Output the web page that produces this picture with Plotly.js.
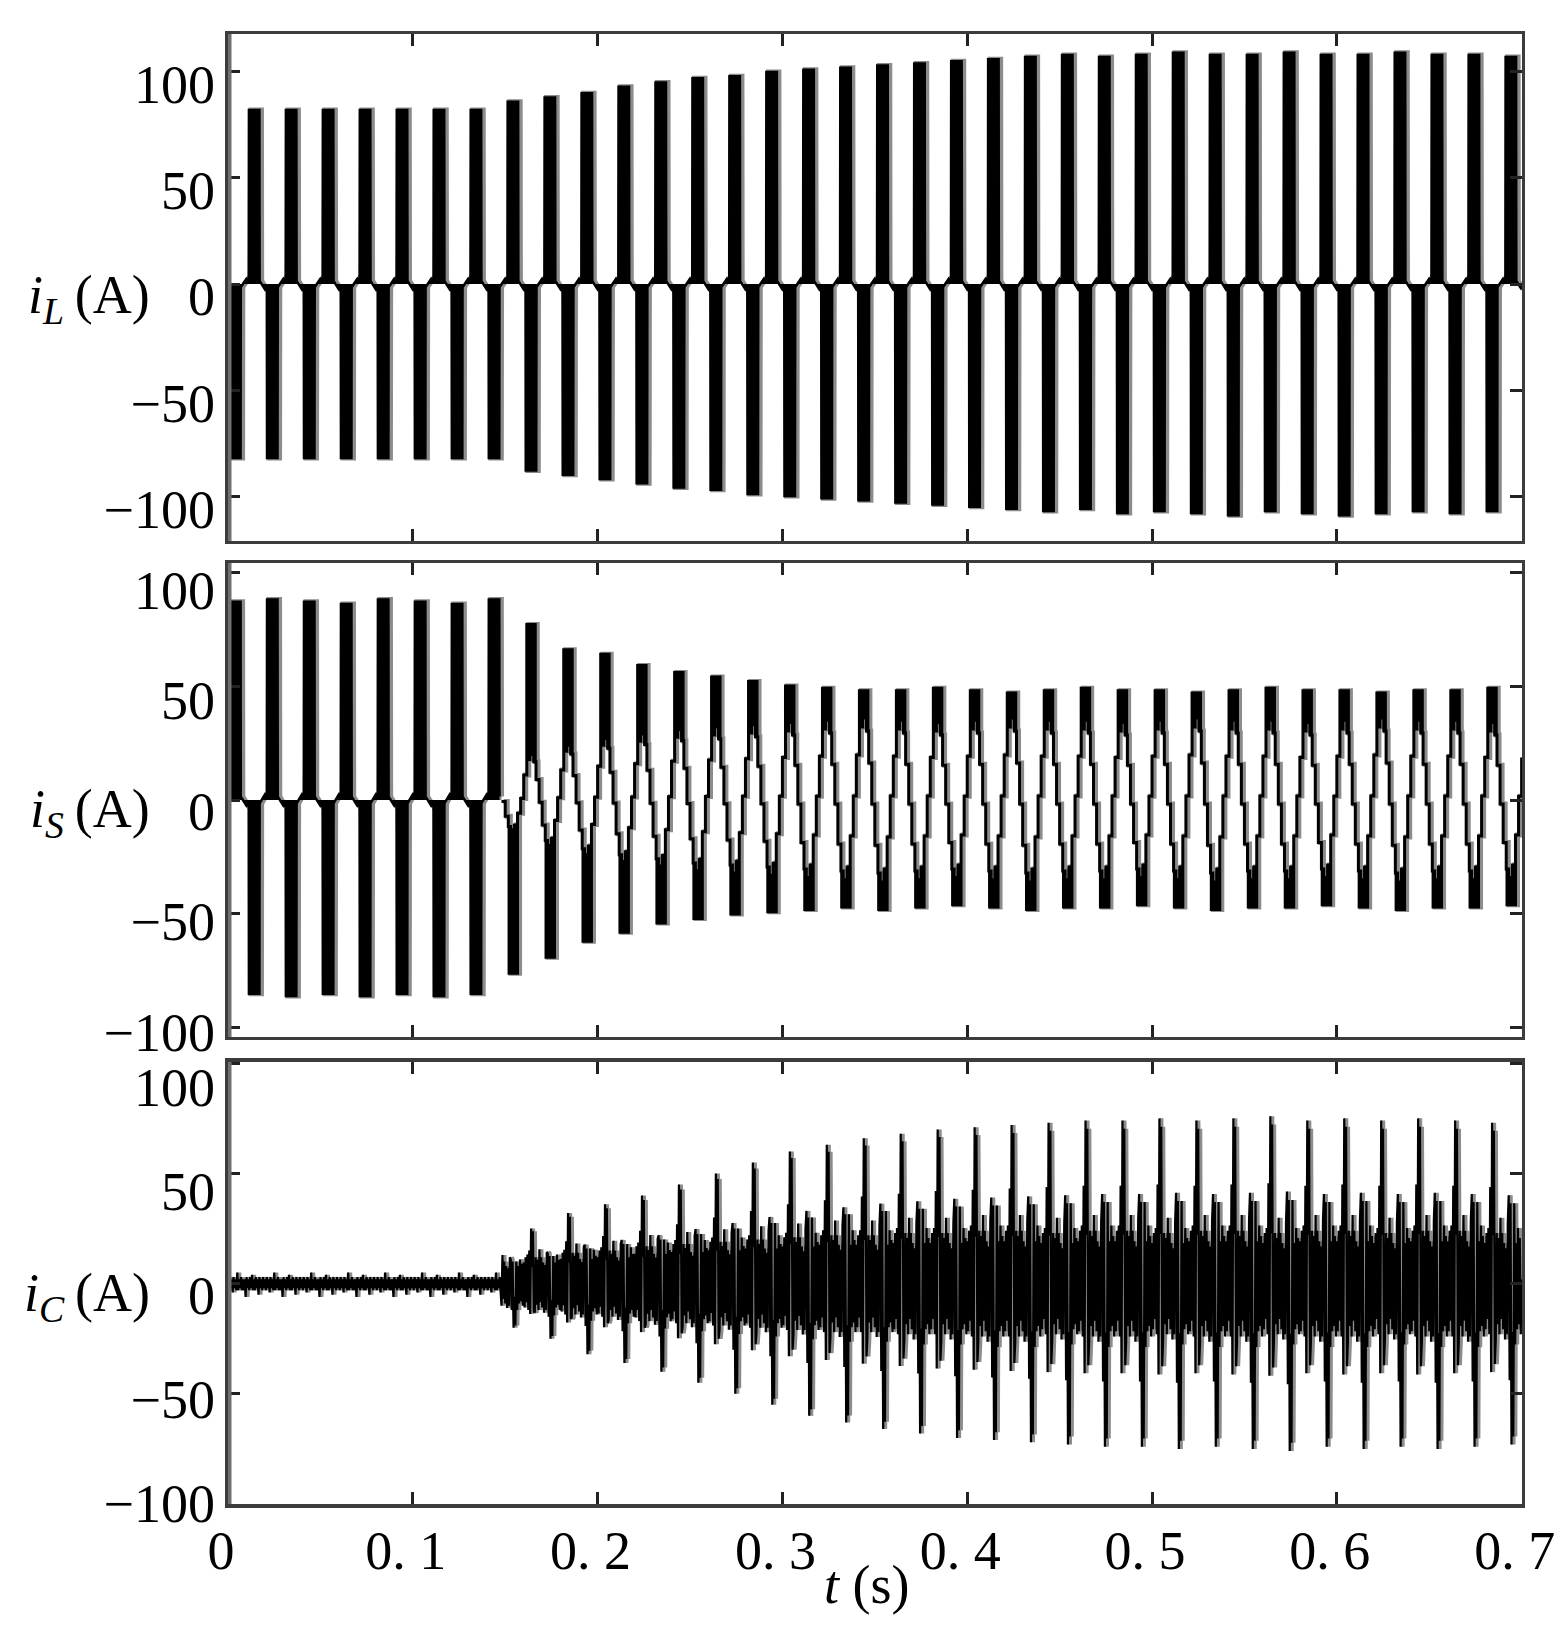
<!DOCTYPE html>
<html><head><meta charset="utf-8">
<script src="https://cdn.plot.ly/plotly-3.0.1.min.js"></script>
<style>html,body{margin:0;padding:0;background:#fff}</style>
</head><body><div id="chart" style="width:1561px;height:1637px"></div>
<script>
// ---------- axes / ticks ----------
const PERIOD = 0.02;
const N_CYCLES = 35;
const T_ON = 0.148;
const T_END = 0.7;
const xTickVals = [0, 0.1, 0.2, 0.3, 0.4, 0.5, 0.6, 0.7];
const xTickText = ['0', '0. 1', '0. 2', '0. 3', '0. 4', '0. 5', '0. 6', '0. 7'];
const yTickVals = [-100, -50, 0, 50, 100];
const yTickText = ['\u2212100', '\u221250', '0', '50', '100'];

// ---------- i_L : per-cycle pulse peaks (A) ----------
const iL_neg = [-82,-82,-82,-82,-82,-82,-82,-82,-88,-90,-92,-94,-96,-97,-99,-100,-101,-102,-103,-104,-105,-106,-107,-106,-108,-107,-108,-109,-107,-108,-109,-108,-107,-108,-107];
const iL_pos = [82,82,82,82,82,82,82,86,88,90,93,95,97,98,100,101,102,103,104,105,106,107,108,107,108,109,108,108,109,108,108,109,108,108,107];
// one-cycle pulse shape
const pulsePhase = [0.000, 0.050, 0.056, 0.340, 0.346, 0.500, 0.560, 0.566, 0.850, 0.856];
const pulseUnit  = [0, 0, -1, -1, 0, 0, 0, 1, 1, 0];
const pulseRest  = [-2.5, -1.5, 0, 0, -1.5, 2.5, 1.5, 0, 0, 1.5];

// ---------- i_S ----------
const iS_prePos = [87, 88, 87, 86, 88, 87, 86, 88];
const iS_preNeg = [-85, -86, -85, -86, -85, -86, -85, -86];
const iS_stair = [null,null,null,null,null,null,null,13,20,24,27,29,31,32,33,34,35,36,35,34,35,36,35,35,34,35,36,35,35,34,35,36,35,35,34];
const iS_spikePos = [null,null,null,null,null,null,null,null,77,66,64,59,56,54,52,50,49,48,48,49,48,47,48,49,48,48,47,48,49,48,48,47,48,48,49];
const iS_spikeNeg = [null,null,null,null,null,null,null,-76,-69,-62,-58,-54,-52,-50,-49,-48,-47,-48,-47,-46,-47,-48,-47,-47,-46,-47,-48,-47,-47,-46,-47,-48,-47,-47,-46];
const stairUnit = [0.55, 0.89, 1.0, 0.84, 0.45, -0.05, -0.55, -0.89, -1.0, -0.84, -0.45, 0.05];

// ---------- i_C ----------
const iC_noise = [2,-3,3,-2,2,-4,3,-2,2,-3, 5,-3,2,-2,3,-3,2,-3,2,-6, 3,-2,2,-3,3,-2,4,-3,2,-3, 3,-2,2,-5,3,-2,2,-3,3,-2];
const iC_core = [null,null,null,null,null,null,null,10,12,14,15,17,18,19,20,21,22,22,23,23,24,24,23,24,24,23,24,24,23,24,24,23,24,24,23];
const iC_spike = [null,null,null,null,null,null,null,20,25,32,36,40,45,50,55,60,63,66,68,70,71,72,73,74,74,75,74,75,76,74,75,74,75,74,73];
const coreUnit = [0.8,-0.9,1.0,-0.7,1.1,-1.0,0,0,0,0, 0,0,-1.1,1.0,-0.8,0.9,-1.0,1.3,-0.7,1.0, -0.9,0.8,-1.1,0.7,-1.0,1.2,0,0,0,0, 0,0,0,-1.2,0.8,-0.9,1.1,-0.8,0.9,-1.0];
const spikeUnit = [0,0,0,0,0,0,0.6,-0.55,1.0,0.3,0.95,-0.5,0,0,0,0,0,0,0,0, 0,0,0,0,0,0,0.55,-0.6,0.5,-1.0,-0.3,-0.95,0.5,0,0,0,0,0,0,0];

// ---------- build series ----------
const cycT = (k, p) => (k + p) * PERIOD;

const iL_t = [], iL_y = [];
for (let k = 0; k < N_CYCLES; k++) {
  for (let i = 0; i < pulsePhase.length; i++) {
    const u = pulseUnit[i];
    const amp = pulsePhase[i] < 0.5 ? Math.abs(iL_neg[k]) : iL_pos[k];
    iL_t.push(cycT(k, pulsePhase[i]));
    iL_y.push(u * amp + pulseRest[i]);
  }
}
iL_t.push(T_END); iL_y.push(pulseRest[0]);

const iSa_t = [], iSa_y = [];
for (let k = 0; k < iS_prePos.length; k++) {
  for (let i = 0; i < pulsePhase.length; i++) {
    const t = cycT(k, pulsePhase[i]);
    if (t > T_ON + 1e-9) break;
    const u = pulseUnit[i];
    const amp = pulsePhase[i] < 0.5 ? iS_prePos[k] : Math.abs(iS_preNeg[k]);
    iSa_t.push(t);
    iSa_y.push(-(u * amp + pulseRest[i]));
  }
}

const STEPS = 48, posBlock = [4, 15], negBlock = [29, 40];
const iSb_t = [], iSb_y = [];
for (let k = 7; k < N_CYCLES; k++) {
  for (let j = 0; j < STEPS; j++) {
    const t = cycT(k, j / STEPS);
    if (t < T_ON - 1e-9) continue;
    const stair = stairUnit[Math.floor(j * stairUnit.length / STEPS)] * iS_stair[k];
    let y = stair;
    if (j >= posBlock[0] && j <= posBlock[1] && iS_spikePos[k] != null && j % 2 === 0) y = iS_spikePos[k];
    if (j >= negBlock[0] && j <= negBlock[1] && iS_spikeNeg[k] != null && j % 2 === 1) y = iS_spikeNeg[k];
    if (iSb_t.length === 0) { iSb_t.push(T_ON); iSb_y.push(stair); }
    iSb_t.push(t); iSb_y.push(y);
  }
}
iSb_t.push(T_END); iSb_y.push(stairUnit[0] * iS_stair[N_CYCLES - 1]);

const iC_t = [], iC_y = [];
for (let k = 0; k < N_CYCLES; k++) {
  for (let i = 0; i < coreUnit.length; i++) {
    const t = cycT(k, i / coreUnit.length);
    iC_t.push(t);
    iC_y.push(t < T_ON ? iC_noise[i] : iC_core[k] * coreUnit[i] + iC_spike[k] * spikeUnit[i]);
  }
}
iC_t.push(T_END); iC_y.push(iC_noise[0]);

const SHIFT = 0.0011;
const sh = arr => arr.map(v => v + SHIFT);
const GRAY = '#8c8c8c', BLACK = '#000000';

const traces = [
  {x: sh(iL_t), y: iL_y, xaxis: 'x', yaxis: 'y', mode: 'lines', line: {color: GRAY, width: 5}, fill: 'tozeroy', fillcolor: GRAY},
  {x: iL_t, y: iL_y, xaxis: 'x', yaxis: 'y', mode: 'lines', line: {color: BLACK, width: 2.5}, fill: 'tozeroy', fillcolor: BLACK},
  {x: sh(iSa_t), y: iSa_y, xaxis: 'x2', yaxis: 'y2', mode: 'lines', line: {color: GRAY, width: 5}, fill: 'tozeroy', fillcolor: GRAY},
  {x: iSa_t, y: iSa_y, xaxis: 'x2', yaxis: 'y2', mode: 'lines', line: {color: BLACK, width: 2.5}, fill: 'tozeroy', fillcolor: BLACK},
  {x: sh(iSb_t), y: iSb_y, xaxis: 'x2', yaxis: 'y2', mode: 'lines', line: {color: GRAY, width: 5, shape: 'hv'}},
  {x: iSb_t, y: iSb_y, xaxis: 'x2', yaxis: 'y2', mode: 'lines', line: {color: BLACK, width: 3, shape: 'hv'}},
  {x: sh(iC_t), y: iC_y, xaxis: 'x3', yaxis: 'y3', mode: 'lines', line: {color: GRAY, width: 4}},
  {x: iC_t, y: iC_y, xaxis: 'x3', yaxis: 'y3', mode: 'lines', line: {color: BLACK, width: 2.2}},
  // empty traces that carry the tick-label axes
  {x: [], y: [], xaxis: 'x', yaxis: 'y4', mode: 'lines'},
  {x: [], y: [], xaxis: 'x2', yaxis: 'y5', mode: 'lines'},
  {x: [], y: [], xaxis: 'x3', yaxis: 'y6', mode: 'lines'}
];

const FONT = 'Liberation Serif';
const FS = 54;
const axisBase = {
  showline: true, linecolor: '#3c3c3c', linewidth: 3, mirror: 'ticks',
  ticks: 'inside', ticklen: 12, tickwidth: 3, tickcolor: '#222',
  showgrid: false, zeroline: false, fixedrange: true
};
const xBase = Object.assign({}, axisBase, {range: [0, 0.7002], tickvals: xTickVals, ticktext: xTickText});
const yBase = Object.assign({}, axisBase, {tickvals: yTickVals, showticklabels: false});
// label axes: same values, placed where the reference prints its y labels
const yLabelAxis = (over, anchor, range) => ({
  overlaying: over, anchor: anchor, side: 'left', range: range,
  showline: false, ticks: '', showgrid: false, zeroline: false, fixedrange: true,
  tickvals: yTickVals, ticktext: yTickText, ticklabelstandoff: 12,
  tickfont: {family: FONT, size: FS, color: '#000'}
});

const ylab = (txt, yref) => ({
  text: txt, xref: 'paper', x: -0.0587, xanchor: 'right', yref: yref, y: 0, yanchor: 'middle',
  yshift: -2, showarrow: false, font: {family: FONT, size: FS, color: '#000'}
});
const leftEdge = (yref) => ({type: 'line', xref: 'x', x0: 0, x1: 0, yref: yref + ' domain', y0: 0, y1: 1,
  line: {color: '#707070', width: 7}});

const layout = {
  width: 1561, height: 1637,
  margin: {l: 228, r: 39, t: 34, b: 133},
  paper_bgcolor: '#fff', plot_bgcolor: '#fff', showlegend: false,
  font: {family: FONT, size: FS, color: '#000'},
  xaxis: Object.assign({}, xBase, {anchor: 'y', showticklabels: false}),
  xaxis2: Object.assign({}, xBase, {anchor: 'y2', showticklabels: false}),
  xaxis3: Object.assign({}, xBase, {anchor: 'y3', showticklabels: true, ticklabelstandoff: -4,
    ticklabelshift: -7, ticklabeloverflow: 'allow',
    linewidth: 4, tickfont: {family: FONT, size: FS, color: '#000'}}),
  yaxis: Object.assign({}, yBase, {domain: [0.6551, 1], range: [-121.2, 117.9]}),
  yaxis2: Object.assign({}, yBase, {domain: [0.3177, 0.6401], range: [-104, 104]}),
  yaxis3: Object.assign({}, yBase, {domain: [0, 0.3007], range: [-100, 100.6]}),
  yaxis4: yLabelAxis('y', 'x', [-115.1, 123.5]),
  yaxis5: yLabelAxis('y2', 'x2', [-102.3, 112.2]),
  yaxis6: yLabelAxis('y3', 'x3', [-100.6, 112]),
  annotations: [
    ylab('<i>i</i><sub><i>L</i></sub>\u2009(A)', 'y4'),
    ylab('<i>i</i><sub><i>S</i></sub>\u2009(A)', 'y5'),
    ylab('<i>i</i><sub><i>C</i></sub>\u2009(A)', 'y6'),
    {text: '<i>t</i> (s)', xref: 'x3', x: 0.346, xanchor: 'center', yref: 'paper', y: -0.055, yanchor: 'middle',
     showarrow: false, font: {family: FONT, size: FS, color: '#000'}}
  ],
  shapes: [leftEdge('y'), leftEdge('y2'), leftEdge('y3')]
};

Plotly.newPlot('chart', traces, layout, {displayModeBar: false, staticPlot: true});
</script>
</body></html>
